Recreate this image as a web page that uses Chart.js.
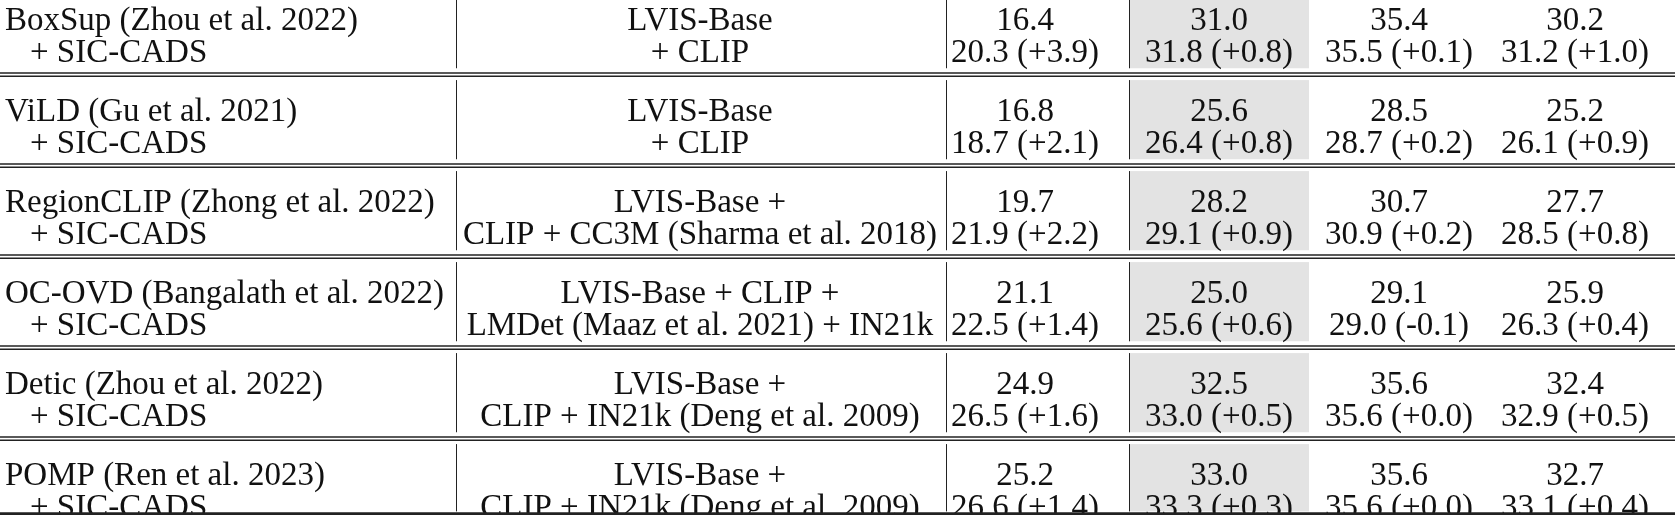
<!DOCTYPE html>
<html>
<head>
<meta charset="utf-8">
<script src="https://cdn.jsdelivr.net/npm/chart.js@4/dist/chart.umd.min.js"></script>
<style>
  body { margin: 0; background: #fff; }
</style>
</head>
<body>
<canvas id="tableChart" width="1675" height="515"></canvas>
<script>
// table contents
const methods = ['BoxSup (Zhou et al. 2022)', 'ViLD (Gu et al. 2021)', 'RegionCLIP (Zhong et al. 2022)',
    'OC-OVD (Bangalath et al. 2022)', 'Detic (Zhou et al. 2022)', 'POMP (Ren et al. 2023)'];
const addOn = '+ SIC-CADS';
const dataLine1 = ['LVIS-Base', 'LVIS-Base', 'LVIS-Base +', 'LVIS-Base + CLIP +', 'LVIS-Base +', 'LVIS-Base +'];
const dataLine2 = ['+ CLIP', '+ CLIP', 'CLIP + CC3M (Sharma et al. 2018)', 'LMDet (Maaz et al. 2021) + IN21k',
    'CLIP + IN21k (Deng et al. 2009)', 'CLIP + IN21k (Deng et al. 2009)'];
const apRare = [16.4, 16.8, 19.7, 21.1, 24.9, 25.2];
const apRareNew = [20.3, 18.7, 21.9, 22.5, 26.5, 26.6];
const apRareGain = ['+3.9', '+2.1', '+2.2', '+1.4', '+1.6', '+1.4'];
const apComm = [31.0, 25.6, 28.2, 25.0, 32.5, 33.0];
const apCommNew = [31.8, 26.4, 29.1, 25.6, 33.0, 33.3];
const apCommGain = ['+0.8', '+0.8', '+0.9', '+0.6', '+0.5', '+0.3'];
const apFreq = [35.4, 28.5, 30.7, 29.1, 35.6, 35.6];
const apFreqNew = [35.5, 28.7, 30.9, 29.0, 35.6, 35.6];
const apFreqGain = ['+0.1', '+0.2', '+0.2', '-0.1', '+0.0', '+0.0'];
const apAll = [30.2, 25.2, 27.7, 25.9, 32.4, 32.7];
const apAllNew = [31.2, 26.1, 28.5, 26.3, 32.9, 33.1];
const apAllGain = ['+1.0', '+0.9', '+0.8', '+0.4', '+0.5', '+0.4'];

const colCenters = [1025, 1219, 1399, 1575];
const valueCols = [[apRare, apRareNew, apRareGain], [apComm, apCommNew, apCommGain],
    [apFreq, apFreqNew, apFreqGain], [apAll, apAllNew, apAllGain]];

const tablePlugin = {
    id: 'tablePlugin',
    afterDraw(chart) {
        const ctx = chart.ctx;
        const x = chart.scales.x, y = chart.scales.y;
        const px = v => x.getPixelForValue(v);
        const py = v => y.getPixelForValue(v);
        ctx.save();
        ctx.font = '33px "Liberation Serif"';
        ctx.textBaseline = 'middle';
        methods.forEach((m, i) => {
            const bottom = i === methods.length - 1 ? 5.8 : i + 0.93;
            // gray highlight column
            ctx.fillStyle = '#e3e3e3';
            ctx.fillRect(px(1129), py(i + 0.06), px(1309) - px(1129), py(bottom) - py(i + 0.06));
            // vertical rules
            ctx.strokeStyle = '#222';
            ctx.lineWidth = 1;
            [456, 946, 1129].forEach(vx => {
                ctx.beginPath();
                ctx.moveTo(Math.round(px(vx)) + 0.5, py(i + 0.06));
                ctx.lineTo(Math.round(px(vx)) + 0.5, py(bottom));
                ctx.stroke();
            });
            ctx.fillStyle = '#111';
            ctx.textAlign = 'left';
            ctx.fillText(m, px(5), py(i + 0.41));
            ctx.fillText(addOn, px(30), py(i + 0.77));
            ctx.textAlign = 'center';
            ctx.fillText(dataLine1[i], px(700), py(i + 0.41));
            ctx.fillText(dataLine2[i], px(700), py(i + 0.77));
            valueCols.forEach((c, k) => {
                ctx.fillText(c[0][i].toFixed(1), px(colCenters[k]), py(i + 0.41));
                ctx.fillText(c[1][i].toFixed(1) + ' (' + c[2][i] + ')', px(colCenters[k]), py(i + 0.77));
            });
            // double separator
            if (i > 0) {
                ctx.lineWidth = 1.5;
                [-0.017, 0.017].forEach(o => {
                    ctx.beginPath();
                    ctx.moveTo(px(0), py(i + o));
                    ctx.lineTo(px(1675), py(i + o));
                    ctx.stroke();
                });
            }
        });
        ctx.lineWidth = 3;
        ctx.beginPath();
        ctx.moveTo(px(0), py(5.825));
        ctx.lineTo(px(1675), py(5.825));
        ctx.stroke();
        ctx.restore();
    }
};

new Chart(document.getElementById('tableChart'), {
    type: 'scatter',
    data: { datasets: [{ data: [], pointRadius: 0 }] },
    options: {
        responsive: false,
        animation: false,
        layout: { padding: 0 },
        plugins: { legend: { display: false }, tooltip: { enabled: false } },
        scales: {
            x: { type: 'linear', min: 0, max: 1675, display: false },
            y: { type: 'linear', min: 0.18, max: 0.18 + 515 / 91, reverse: true, display: false }
        }
    },
    plugins: [tablePlugin]
});
</script>
</body>
</html>
